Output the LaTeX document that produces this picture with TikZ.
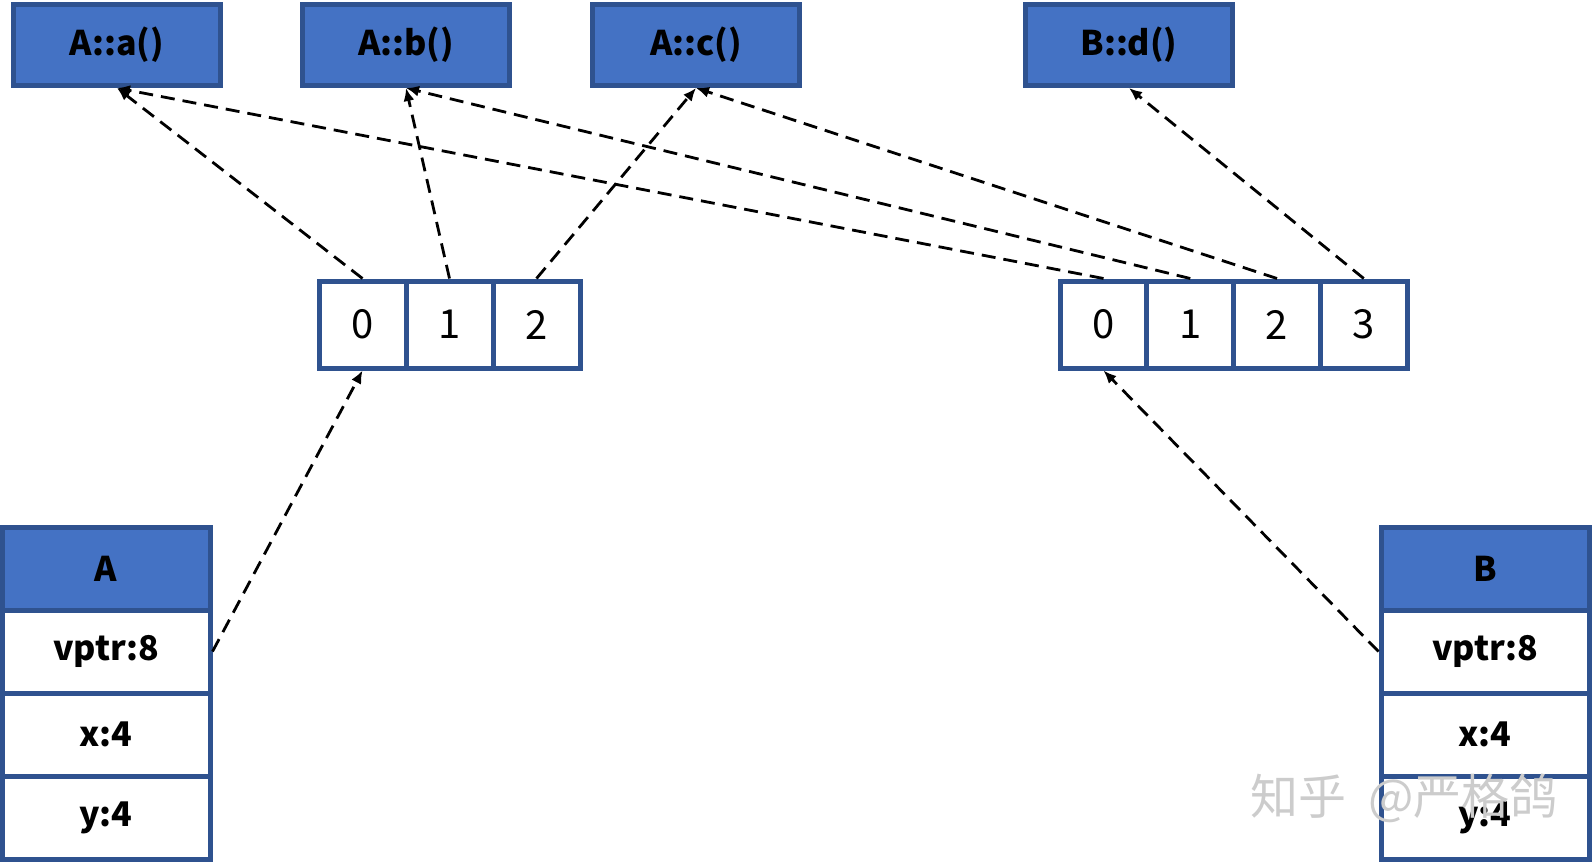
\documentclass[tikz,border=0pt]{standalone}
\usepackage{fontspec}
\setmainfont{Noto Sans CJK SC}
\usetikzlibrary{arrows.meta}
\definecolor{boxblue}{HTML}{4472C4}
\definecolor{edgeblue}{HTML}{2F528F}

\begin{document}
\begin{tikzpicture}[x=0.5pt,y=-0.5pt,
    funcbox/.style={draw=edgeblue, fill=boxblue, line width=2.5pt, minimum width=103.5pt, minimum height=40.5pt, font=\fontsize{17}{20}\selectfont\bfseries},
    cell/.style={draw=edgeblue, fill=white, line width=2.5pt, minimum width=43.5pt, minimum height=43.5pt, font=\fontsize{20}{24}\selectfont},
    field/.style={draw=edgeblue, fill=white, line width=2.5pt, minimum width=104pt, minimum height=41.5pt, font=\fontsize{17}{20}\selectfont\bfseries},
    head/.style={field, fill=boxblue},
    ptr/.style={dash pattern=on 7pt off 4pt, line width=1.4pt, -{Latex[length=6.5pt,width=5.5pt]}}]
    \useasboundingbox (0,0) rectangle (1592,863);
    % Below nodes are the functions.
        \node[funcbox] (fa) at (117,45) {A::a()};
        \node[funcbox] (fb) at (406,45) {A::b()};
        \node[funcbox] (fc) at (696,45) {A::c()};
        \node[funcbox] (fd) at (1129,45) {B::d()};
    % The two vtables.
        \foreach \i in {0,1,2}
            \node[cell] (l\i) at ({362.5+87*\i},324.5) {\i};
        \foreach \i in {0,...,3}
            \node[cell] (r\i) at ({1103.5+86.75*\i},324.5) {\i};
    % The objects A and B.
        \node[head] (ahead) at (106,568.5) {A};
        \node[head] (bhead) at (1485,568.5) {B};
        \foreach \n/\t [count=\k] in {vptr/vptr:8, x/x:4, y/y:4} {
            \node[field] (a\n) at (106,{568.5+83*\k}) {\t};
            \node[field] (b\n) at (1485,{568.5+83*\k}) {\t};
        }
    % This draws the pointers.
        \draw[ptr] (l0.north) -- (fa.south);
        \draw[ptr] (l1.north) -- (fb.south);
        \draw[ptr] (l2.north) -- (fc.south);
        \draw[ptr] (r0.north) -- (fa.south);
        \draw[ptr] (r1.north) -- (fb.south);
        \draw[ptr] (r2.north) -- (fc.south);
        \draw[ptr] (r3.north) -- (fd.south);
        \draw[ptr] (avptr.east) -- (l0.south);
        \draw[ptr] (bvptr.west) -- (r0.south);
    % Watermark.
        \node[text=black!20, font=\fontsize{24}{28}\selectfont] (mark) at (1404,798) {知乎\ \ @严格鸽};
\end{tikzpicture}
\end{document}
